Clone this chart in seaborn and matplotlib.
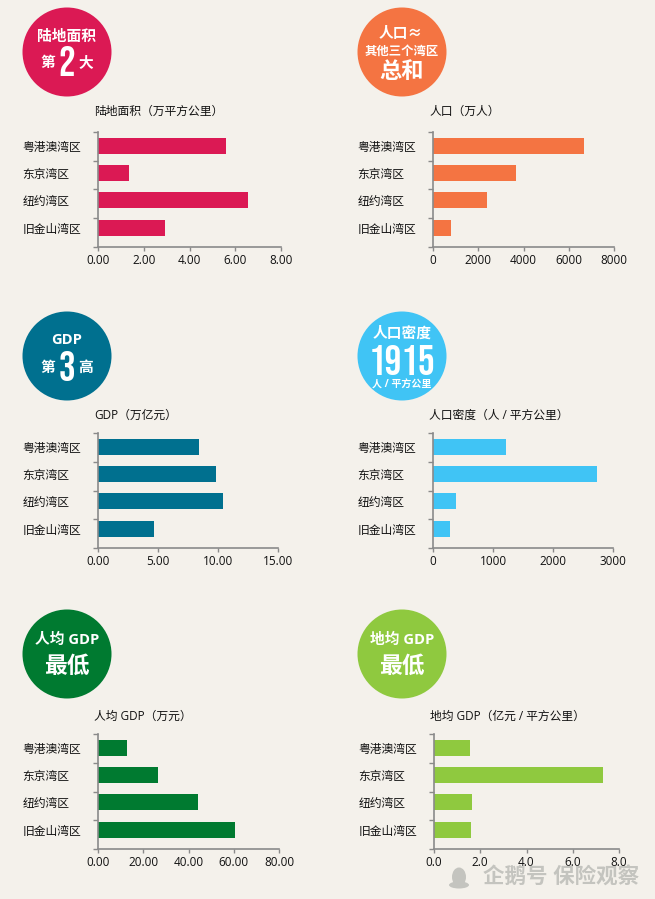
import matplotlib
matplotlib.use('Agg')
import matplotlib.pyplot as plt
from matplotlib.patches import Circle, Ellipse
from matplotlib.ticker import FixedLocator
import logging
import numpy as np
import pandas as pd
import seaborn as sns

logging.getLogger('matplotlib.font_manager').setLevel(logging.ERROR)

W, H = 655, 899

regions = ['粤港澳湾区', '东京湾区', '纽约湾区', '旧金山湾区']

land_area = [5.6, 1.35, 6.55, 2.92]
population = [6680, 3680, 2390, 810]
gdp = [8.45, 9.8, 10.45, 4.68]
pop_density = [1210, 2725, 380, 285]
gdp_per_capita = [12.8, 26.3, 44, 60.4]
gdp_per_area = [1.55, 7.3, 1.63, 1.6]

titles = ['陆地面积（万平方公里）', '人口（万人）', 'GDP（万亿元）',
          '人口密度（人 / 平方公里）', '人均 GDP（万元）', '地均 GDP（亿元 / 平方公里）']
colors = ['#DB1954', '#F47442', '#00708F', '#40C4F5', '#007A30', '#8FC93F']

sns.set_theme(style='white')
BODY = ['Open Sans', 'Noto Sans CJK SC', 'DejaVu Sans']
CJK = ['Noto Sans CJK SC', 'DejaVu Sans']
plt.rcParams['font.family'] = BODY
BG = '#F4F1EB'
NARROW = ['Bebas Neue', 'Oswald', 'Liberation Sans', 'DejaVu Sans']
LINE = '#8a8a8a'
TXT = '#111111'

fig = plt.figure(figsize=(W / 100, H / 100), dpi=100, facecolor=BG)

ov = fig.add_axes([0, 0, 1, 1], facecolor='none', zorder=5)
ov.set_xlim(0, W)
ov.set_ylim(H, 0)
ov.axis('off')

ROW = 27.3  # bar spacing in px
TICK_ROW = 28.75  # the ticks sit on a slightly wider step than the bars


def panel(vals, color, title, box, title_y, xmax, ticks, fmt):
    x0, x1, y0, y1 = box
    ax = fig.add_axes([x0 / W, 1 - y1 / H, (x1 - x0) / W, (y1 - y0) / H], facecolor=BG)
    df = pd.DataFrame({'region': regions, 'value': vals})
    sns.barplot(data=df, x='value', y='region', color=color, saturation=1, width=0.586,
                linewidth=0, ax=ax)
    top = -0.5
    ax.set_xlim(0, xmax)
    ax.set_ylim(top + (y1 - y0) / ROW, top)
    ax.set_xlabel('')
    ax.set_ylabel('')
    ax.set_xticks(ticks)
    ax.set_xticklabels([fmt % t for t in ticks], fontsize=8.5, color=TXT)
    ax.yaxis.set_minor_locator(FixedLocator(top + np.arange(5) * TICK_ROW / ROW))
    ax.tick_params(axis='y', which='major', length=0, pad=54.5, labelsize=8.5, labelcolor=TXT)
    ax.tick_params(axis='y', which='minor', left=True, length=3.5, width=1, color=LINE)
    ax.tick_params(axis='x', bottom=True, length=3, width=1, color=LINE, pad=2)
    sns.despine(ax=ax)
    for s in ['left', 'bottom']:
        ax.spines[s].set_color(LINE)
        ax.spines[s].set_linewidth(1.2)
    for lab in ax.get_yticklabels():
        lab.set_ha('left')
    ov.text(x0 - 4, title_y, title, fontsize=8.5, color=TXT, va='center', ha='left')


panel(land_area, colors[0], titles[0], (98, 281, 132, 247), 111, 8, [0, 2, 4, 6, 8], '%.2f')
panel(population, colors[1], titles[1], (433, 614, 132, 247), 111, 8000, [0, 2000, 4000, 6000, 8000], '%d')
panel(gdp, colors[2], titles[2], (98, 278, 433, 548), 415, 15, [0, 5, 10, 15], '%.2f')
panel(pop_density, colors[3], titles[3], (433, 613, 433, 548), 415, 3000, [0, 1000, 2000, 3000], '%d')
panel(gdp_per_capita, colors[4], titles[4], (98, 279, 734, 849), 716, 80, [0, 20, 40, 60, 80], '%.2f')
panel(gdp_per_area, colors[5], titles[5], (434, 619, 734, 849), 716, 8, [0, 2, 4, 6, 8], '%.1f')

centers = [(67, 52), (402, 52), (67, 356), (402, 356), (67, 654), (402, 654)]
for c, col in zip(centers, colors):
    ov.add_patch(Circle(c, 44.5, facecolor=col, edgecolor='none'))


def label(x, y, s, size, family=BODY, weight='bold'):
    ov.text(x, y, s, color='white', fontsize=size, fontweight=weight, ha='center', va='center', family=family)


label(67, 37, '陆地面积', 10.6)
label(48, 63, '第', 10.6)
label(67, 61, '2', 30, NARROW, 'normal')
label(86, 63, '大', 10.6)

label(401, 33, '人口≈', 10.6, CJK)
label(402, 51, '其他三个湾区', 8.9)
label(402, 72, '总和', 16)

label(67, 340, 'GDP', 10.6)
label(48, 368, '第', 10.6)
label(67, 366, '3', 30, NARROW, 'normal')
label(86, 368, '高', 10.6)

label(402, 334, '人口密度', 10.6)
label(402, 360, '1915', 30, NARROW, 'normal')
label(402, 385, '人 / 平方公里', 7.2)

label(67, 640, '人均 GDP', 10.6)
label(67, 667, '最低', 16.4)

label(402, 640, '地均 GDP', 10.6)
label(402, 667, '最低', 16.4)

# watermark, bottom right
WM = '#c4c4bf'
ov.add_patch(Ellipse((459, 877), 14, 19, facecolor=WM, edgecolor='none'))
ov.add_patch(Ellipse((459, 885), 20, 7, facecolor=WM, edgecolor='none'))
ov.text(561, 878.5, '企鹅号 保险观察', color=WM, fontsize=15.5, fontweight='bold', ha='center', va='center')

fig.savefig('out.png', dpi=100, facecolor=BG)
